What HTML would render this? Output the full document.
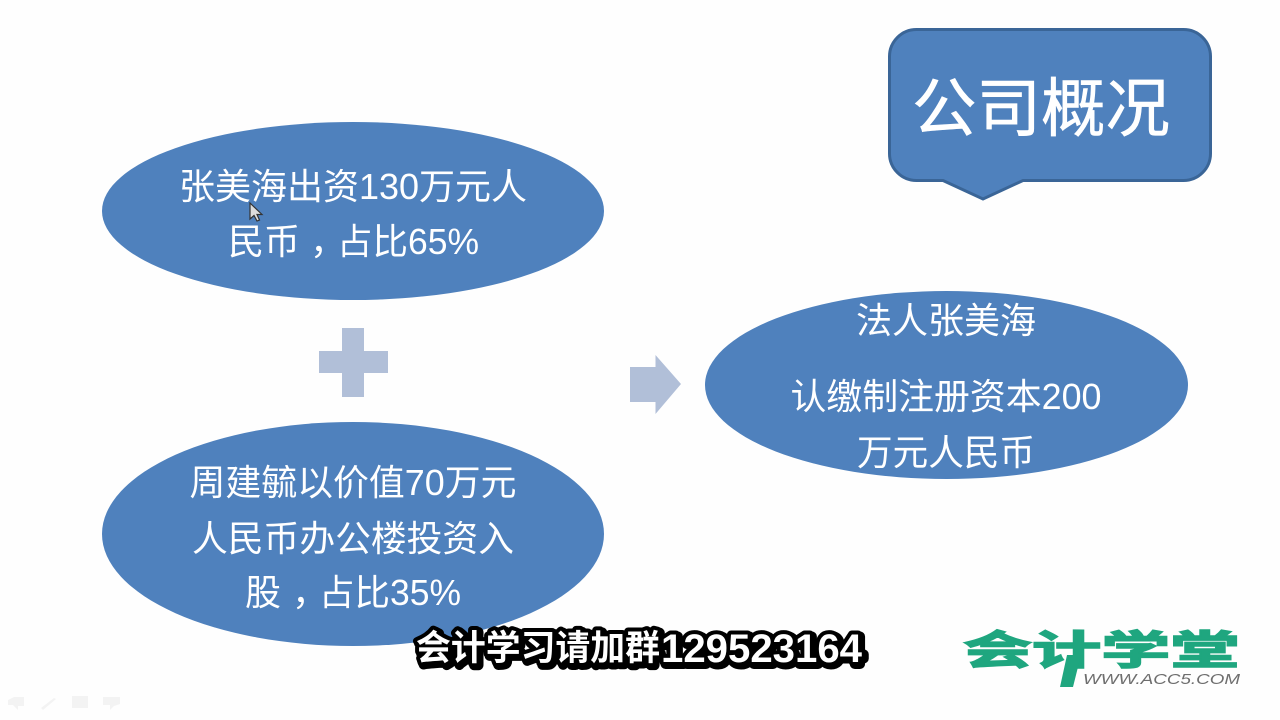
<!DOCTYPE html>
<html>
<head>
<meta charset="utf-8">
<style>
html,body{margin:0;padding:0;background:#fefefe;width:1280px;height:720px;overflow:hidden}
svg{display:block}
text{font-family:"Liberation Sans","Noto Sans CJK SC",sans-serif}
.w{fill:#fff;font-size:36px;text-anchor:middle}
.s{font-weight:700;fill:#000;stroke:#000;stroke-width:10px;stroke-linejoin:round}
.f{font-weight:700;fill:#fff}
</style>
</head>
<body>
<svg width="1280" height="720" viewBox="0 0 1280 720" xmlns="http://www.w3.org/2000/svg">
<rect width="1280" height="720" fill="#fefefe"/>

<ellipse cx="353" cy="211" rx="251" ry="89" fill="#4f81bd"/>
<ellipse cx="353" cy="534" rx="251" ry="112" fill="#4f81bd"/>
<ellipse cx="946.500" cy="385" rx="241.500" ry="94" fill="#4f81bd"/>

<path d="M916.500 29.500H1183.500A27 27 0 0 1 1210.500 56.500V153.500A27 27 0 0 1 1183.500 180.500H1023L983 199L943 180.500H916.500A27 27 0 0 1 889.500 153.500V56.500A27 27 0 0 1 916.500 29.500Z" fill="#4f81bd" stroke="#3a6597" stroke-width="3"/>
<text x="1041" y="131" class="w" style="font-size:64px" stroke="#fff" stroke-width="0.600" textLength="258" lengthAdjust="spacingAndGlyphs">公司概况</text>

<path d="M342 328H364V351H388V373H364V397H342V373H319V351H342Z" fill="#b1bfd8"/>
<path d="M630 367H655.500V355L681 384L655.500 414V402H630Z" fill="#b1bfd8"/>

<text x="353" y="199" class="w" textLength="348" lengthAdjust="spacingAndGlyphs">张美海出资130万元人</text>
<text x="228" y="254" style="font-size:36px" fill="#fff">民币</text>
<text x="310" y="254" style="font-size:36px" fill="#fff">，</text>
<text x="337" y="254" style="font-size:36px" fill="#fff" textLength="142" lengthAdjust="spacingAndGlyphs">占比65%</text>

<text x="353" y="495" class="w" textLength="327" lengthAdjust="spacingAndGlyphs">周建毓以价值70万元</text>
<text x="353" y="551" class="w" textLength="322" lengthAdjust="spacingAndGlyphs">人民币办公楼投资入</text>
<text x="245" y="605" style="font-size:36px" fill="#fff">股</text>
<text x="292" y="605" style="font-size:36px" fill="#fff">，</text>
<text x="319" y="605" style="font-size:36px" fill="#fff" textLength="142" lengthAdjust="spacingAndGlyphs">占比35%</text>

<text x="946" y="333" class="w" textLength="180" lengthAdjust="spacingAndGlyphs">法人张美海</text>
<text x="946" y="409" class="w" textLength="311" lengthAdjust="spacingAndGlyphs">认缴制注册资本200</text>
<text x="946" y="465" class="w" textLength="178" lengthAdjust="spacingAndGlyphs">万元人民币</text>

<path d="M250 203V219L254 215.500L257 221L259.500 220L257 214.500H262Z" fill="#ddd" stroke="#333" stroke-width="1.200"/>

<g transform="translate(2 2)">
<text x="416" y="660" class="s" style="font-size:35px" textLength="244" lengthAdjust="spacingAndGlyphs">会计学习请加群</text>
<text x="661" y="662" class="s" style="font-size:40px" textLength="201" lengthAdjust="spacingAndGlyphs">129523164</text>
</g>
<text x="416" y="660" class="s" style="font-size:35px;stroke-width:8px" textLength="244" lengthAdjust="spacingAndGlyphs">会计学习请加群</text>
<text x="661" y="662" class="s" style="font-size:40px;stroke-width:8px" textLength="201" lengthAdjust="spacingAndGlyphs">129523164</text>
<text x="416" y="660" class="f" style="font-size:35px" textLength="244" lengthAdjust="spacingAndGlyphs">会计学习请加群</text>
<text x="661" y="662" class="f" style="font-size:40px" textLength="201" lengthAdjust="spacingAndGlyphs">129523164</text>

<g transform="translate(963 664) scale(1.58 1)">
<text x="0" y="0" textLength="175" lengthAdjust="spacingAndGlyphs" style="font-size:40px;font-weight:700" fill="#1fa67f" stroke="#1fa67f" stroke-width="1.500">会计学堂</text>
</g>
<path d="M1067 655H1081L1073 687H1060Z" fill="#1fa67f"/>
<text x="1083" y="684" textLength="157" lengthAdjust="spacingAndGlyphs" style="font-size:15px;font-style:italic" fill="#6e6e6e">WWW.ACC5.COM</text>

<g fill="#f3f3f3">
<path d="M8 700L14 697H24V706H18V710L13 705H8Z"/>
<path d="M41 708L54 698L56 699L43 710Z"/>
<rect x="72" y="696" width="16" height="12"/>
<path d="M103 697H120V704L114 706L110 710L110 705H103Z"/>
</g>
</svg>
</body>
</html>
